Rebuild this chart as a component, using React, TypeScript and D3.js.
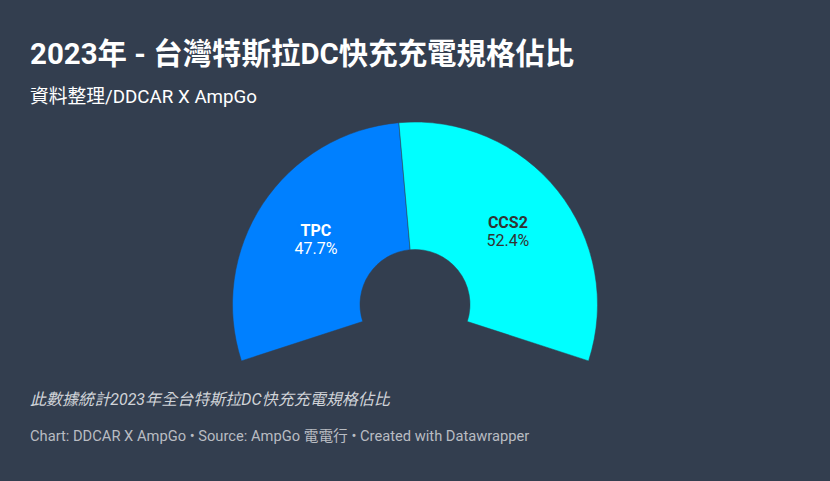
import React from 'react';
import * as d3 from 'd3';

const categories = ['TPC', 'CCS2'];
const shares = [47.7, 52.4];
const sliceColors = ['#0080ff', '#00ffff'];
const labelColors = ['#ffffff', '#333333'];
const haloColors = ['rgba(0,128,255,0.6)', 'rgba(0,255,255,0.6)'];

const title = '2023年 - 台灣特斯拉DC快充充電規格佔比';
const subtitle = '資料整理/DDCAR X AmpGo';
const note = '此數據統計2023年全台特斯拉DC快充充電規格佔比';
const footer = 'Chart: DDCAR X AmpGo • Source: AmpGo 電電行 • Created with Datawrapper';

const fontFamily = 'Roboto, "Noto Sans CJK TC", sans-serif';

const App: React.FC = () => {
  const width = 830;
  const height = 481;
  const cx = 415;
  const cy = 304.5;
  const outerRadius = 182.5;
  const innerRadius = 55;

  // 60% of a full circle, centred on the top
  const pie = d3.pie<number>()
    .value(d => d)
    .sort(null)
    .startAngle(-0.6 * Math.PI)
    .endAngle(0.6 * Math.PI);
  const arc = d3.arc<d3.PieArcDatum<number>>()
    .innerRadius(innerRadius)
    .outerRadius(outerRadius);
  const slices = pie(shares);

  return (
    <svg
      width={width}
      height={height}
      viewBox={`0 0 ${width} ${height}`}
      style={{ position: 'fixed', left: 0, top: 0, background: '#333e4f', fontFamily }}
    >
      <text x={30} y={64} fontSize={29.45} fontWeight={700} fill="#ffffff">{title}</text>
      <text x={30} y={103} fontSize={18.75} fill="#ffffff">{subtitle}</text>

      <g transform={`translate(${cx},${cy})`}>
        {slices.map((d, i) => (
          <path key={categories[i]} d={arc(d) ?? ''} fill={sliceColors[i]} stroke="#333e4f" strokeWidth={0.5} />
        ))}
        {slices.map((d, i) => {
          const [x, y] = arc.centroid(d);
          const shared = {
            x,
            textAnchor: 'middle' as const,
            fill: labelColors[i],
            style: { textShadow: `0 0 3px ${haloColors[i]}` },
          };
          return (
            <g key={categories[i]}>
              <text {...shared} y={y - 3} fontSize={16} fontWeight={700}>{categories[i]}</text>
              <text {...shared} y={y + 15} fontSize={16}>{`${shares[i].toFixed(1)}%`}</text>
            </g>
          );
        })}
      </g>

      <text x={30} y={405} fontSize={16.05} fontStyle="italic" fill="#d0d3d8">{note}</text>
      <text x={30} y={441} fontSize={14.7} fill="#b9bcc2">{footer}</text>
    </svg>
  );
};

export default App;
